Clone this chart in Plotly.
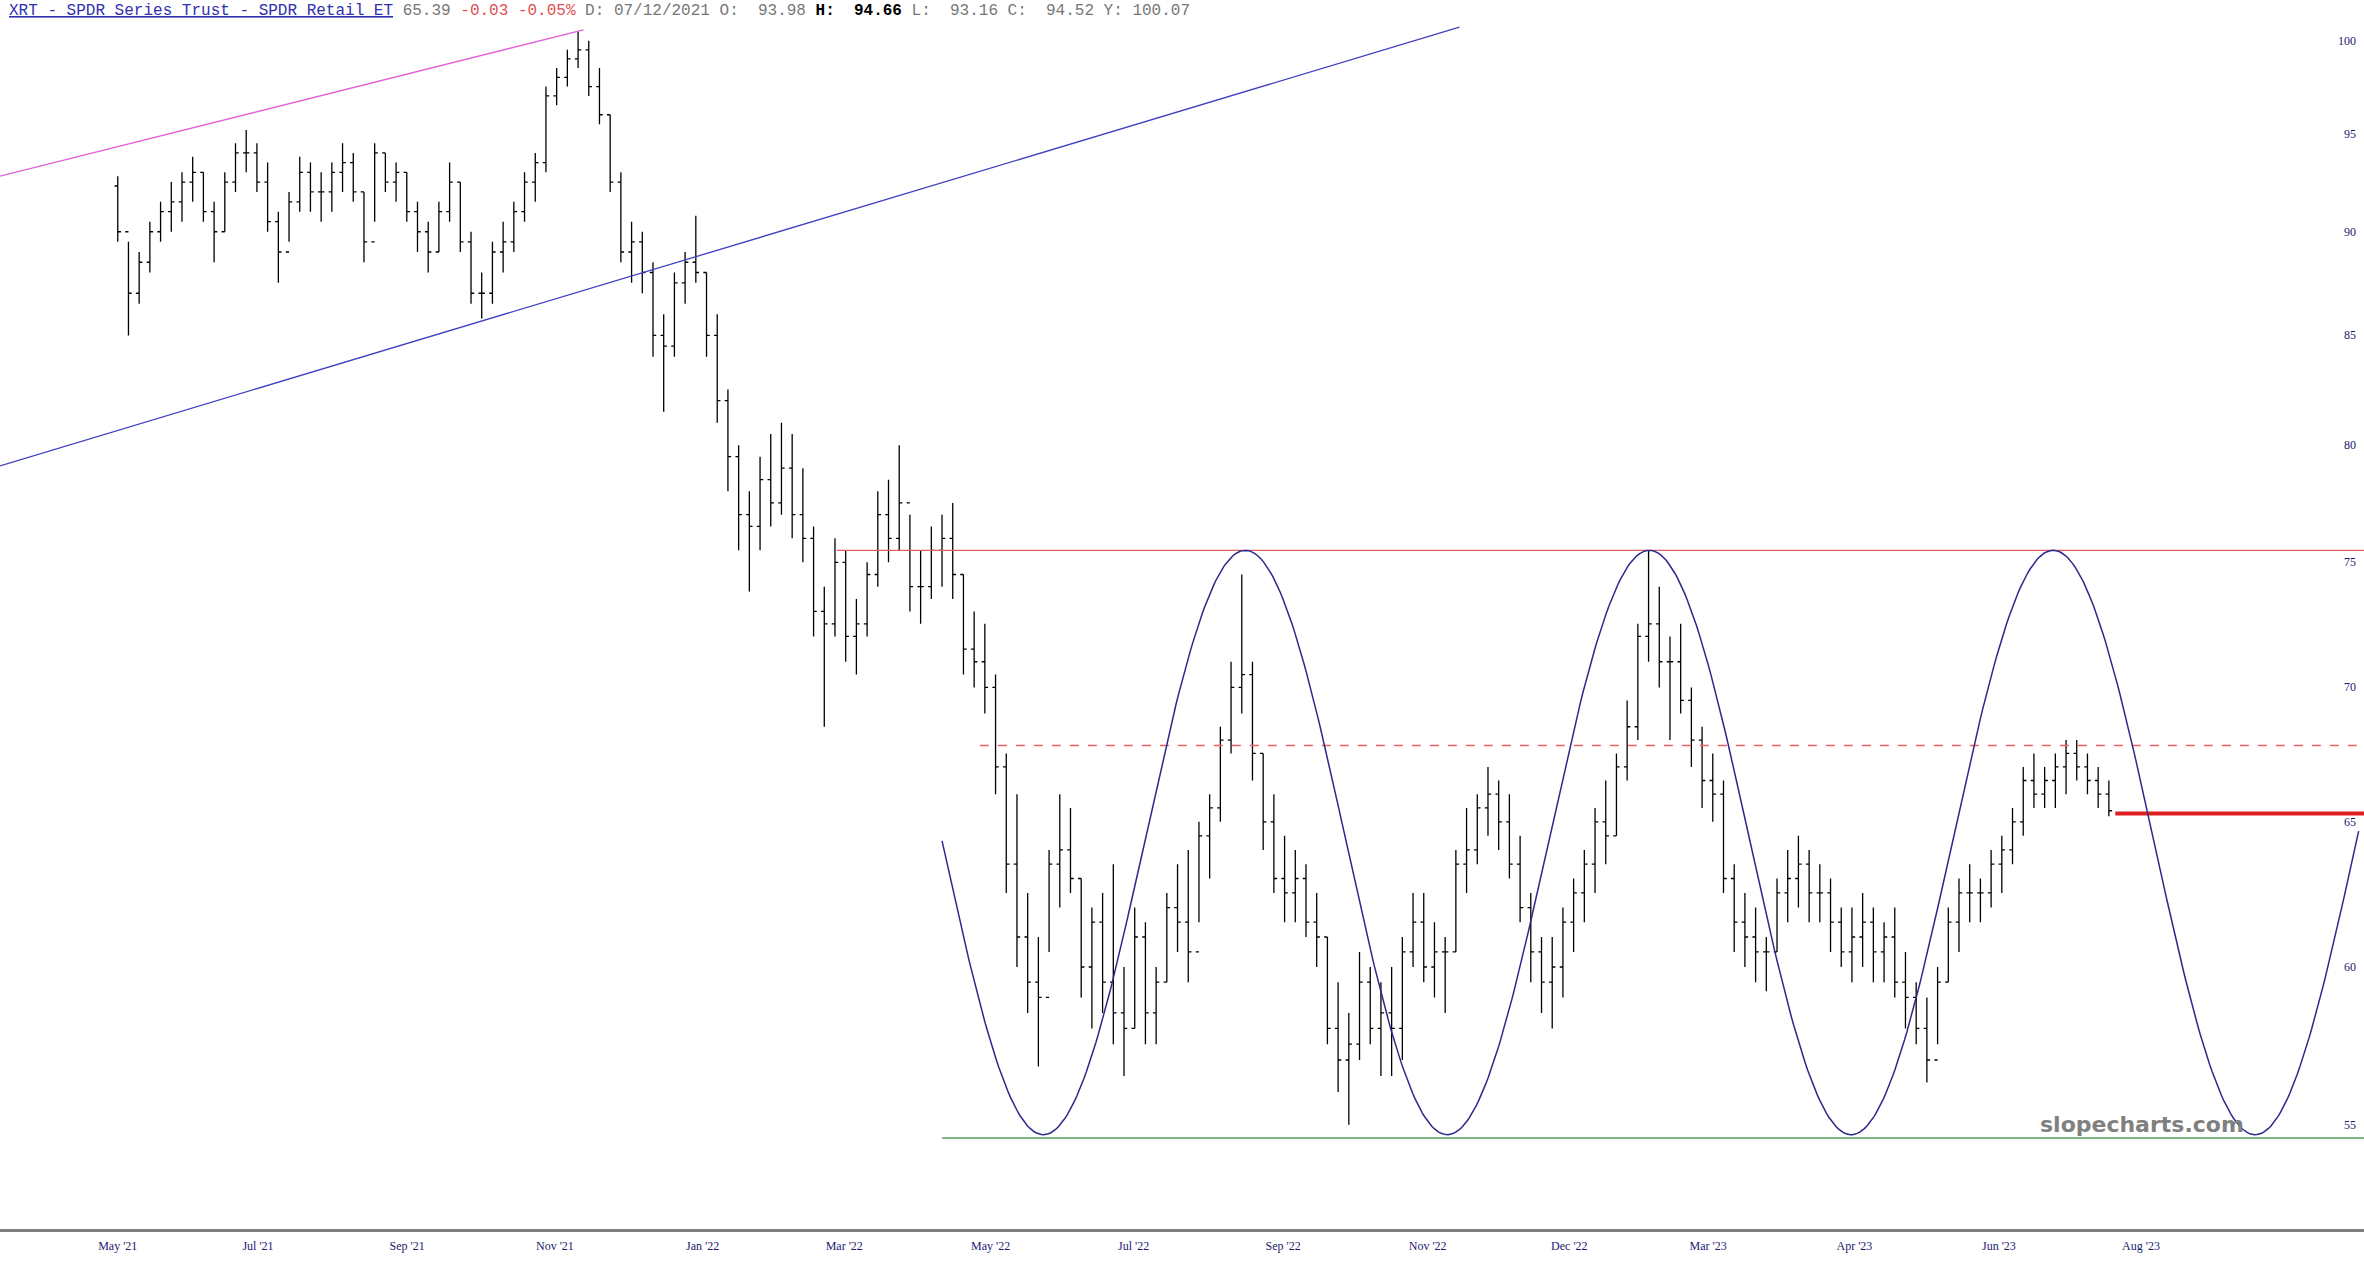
import numpy as np
import plotly.graph_objects as go

# 3-trading-day bars
highs = [92.8,89.5,89,90.5,91.5,92.5,93,93.8,93,91.5,
 93,94.5,95.2,94.5,93.5,91,92,93.8,93.5,93,
 93.5,94.5,94,92,94.5,94,93.5,93,91.5,90.5,
 91.5,93.5,92.5,90,88,89.5,90.5,91.5,93,94,
 97.5,98.5,99.5,100.5,100,98.5,96,93,90.5,90,
 88.5,86,88,89,90.8,88,86,82.5,80,78,
 79.5,80.5,81,80.5,79,76.5,74,76,75.5,73.5,
 75,78,78.5,80,77,75.5,76.5,77,77.5,74.5,
 73,72.5,70.5,67.5,66,62.5,61,64,66,65.5,
 63,62,62.5,63.5,60,62,61.5,60,62.5,63.5,
 64,65,66,68.5,71,74.5,71,67.5,66,64.5,
 64,63.5,62.5,61,59.5,58.5,60.5,60,59.5,60,
 61,62.5,62.5,61.5,61,64,65.5,66,67,66.5,
 66,64.5,62.5,61,61,62,63,64,65.5,66.5,
 67.5,69.5,72.5,75.5,74,72,72.5,70,68.5,67.5,
 66.5,63.5,62.5,62,61,63,64,64.5,64,63.5,
 63,62,62,62.5,62,61.5,62,60.5,59.5,59,
 60,62,63,63.5,63,64,64.5,65.5,67,67.5,
 67,67.5,68,68,67.5,67,66.5]
lows = [89.5,85,86.5,88,89.5,90,90.5,91.5,90.5,88.5,
 90,92,93,92,90,87.5,89.5,91,91,90.5,
 91,92,91.5,88.5,90.5,92,91.5,90.5,89,88,
 89,90.5,89,86.5,85.8,86.5,88,89,90.5,91.5,
 93,96.5,97.5,98.5,97,95.5,92,88.5,87.5,87,
 84,81.5,84,86.5,87.5,84,81,78,75.5,73.8,
 75.5,76.5,77,76,75,72,68.5,72,71,70.5,
 72,74,75,75.5,73,72.5,73.5,74,73.5,70.5,
 70,69,66,62.5,60,58.5,56.8,60.5,62,62.5,
 59,58,58.5,57.5,56.5,58,57.5,57.5,59.5,60.5,
 59.5,61.5,63,65,67.5,69,66.5,64,62.5,61.5,
 61.5,61,60,57.5,56,55,57,57.5,56.5,56.5,
 57,60,59.5,59,58.5,60.5,62.5,63.5,64.5,64,
 63,61.5,59.5,58.5,58,59,60.5,61.5,62.5,63.5,
 64.5,66.5,68,71,70,68,69,67,65.5,65,
 62.5,60.5,60,59.5,59.2,60.5,61.5,62,61.5,61.5,
 60.5,60,59.5,60,59.5,59.5,59,58,57.5,56.3,
 57.5,59.5,60.5,61.5,61.5,62,62.5,63.5,64.5,65.5,
 65.5,65.5,66,66.5,66,65.5,65.2]
closes = [90,87,88.5,90,91,91.5,92.5,93,91,90,
 92.5,94,94,92.5,90.5,89,91.5,93,92,92,
 93,93.5,92,89.5,94,92.5,93,91,90,89,
 91,92.5,89.5,87,87,89,89.5,91,92.5,93.5,
 97,98,99,99.5,97.5,96,92.5,89,89.5,88,
 85,84.5,87.5,88.5,88,85,82,79.5,77,76.5,
 78.5,77.5,79,77,76,73,72.5,75,72,72.5,
 74.5,77,76,77.5,74,74,75.5,76,74.5,71.5,
 71,70,67,63.5,61,59.5,59,63.5,64,63,
 60,61.5,59.5,58.5,58,61,58.5,59.5,62,61.5,
 60.5,64.5,65.5,68,70,70.5,67.5,65,63,62.5,
 63,61.5,61,58,57,57.5,59.5,58,58.5,58,
 60.5,61.5,60,60.5,60.5,63.5,64,65.5,66,65,
 63.5,62,60.5,59.5,60,61.5,62.5,63.5,65,64.5,
 67,68.5,72,72.5,71,71,69.5,68,66.5,66,
 63,61.5,61,60.5,60.5,62.5,63,63.5,62.5,62.5,
 61.5,60.5,61,61.5,60.5,61,59.5,59,58,57,
 59.5,61.5,62.5,62.5,62.5,63.5,64,65,66.5,66,
 66.5,67,67.5,67,66.5,66,65.4]
opens = [92.3] + closes[:-1]

tick_labels = ["May '21","Jul '21","Sep '21","Nov '21","Jan '22","Mar '22","May '22",
               "Jul '22","Sep '22","Nov '22","Dec '22","Mar '23","Apr '23","Jun '23","Aug '23"]
tick_pos = [0,39.3,81.1,122.5,163.9,203.6,244.6,284.7,326.6,367.1,406.8,445.7,486.7,527.2,567.0]
price_ticks = [55,60,65,70,75,80,85,90,95,100]

XL, XR = -33, 629.5
x = [3*i for i in range(len(closes))]

fig = go.Figure()
def seg(x0, x1, y0, y1, color, width=1.3, dash=None):
    fig.add_trace(go.Scatter(x=[x0, x1], y=[y0, y1], mode="lines", hoverinfo="skip",
                             line=dict(color=color, width=width, dash=dash), showlegend=False))

seg(XL, 130.5, 92.8, 100.6, "#e060d8")
seg(XL, 376, 79.1, 100.75, "#4040c0")
seg(201.5, XR, 75.5, 75.5, "#e06060")
seg(241.6, XR, 67.8, 67.8, "#f06060", 1.5, "dash")
seg(231, XR, 54.6, 54.6, "#80b880", 2)
seg(559.8, XR, 65.3, 65.3, "#e02020", 4)

d = np.linspace(231, 628, 600)
lhi, llo = np.log10(75.5), np.log10(54.7)
c, a = (lhi+llo)/2, (lhi-llo)/2
yc = 10**(c - a*np.cos(2*np.pi*(d-259.4)/113.2))
fig.add_trace(go.Scatter(x=d, y=yc, mode="lines", line=dict(color="#2a2a8a", width=1.5),
                         hoverinfo="skip", showlegend=False))

fig.add_trace(go.Ohlc(x=x, open=opens, high=highs, low=lows, close=closes,
                      increasing_line_color="black", decreasing_line_color="black",
                      line_width=1.3, tickwidth=0.3, showlegend=False))

annots = [dict(xref="paper", yref="y", x=0.9975, y=float(np.log10(v)), xanchor="right",
               yanchor="middle", showarrow=False, text=str(v),
               font=dict(family="Liberation Serif", size=12, color="#1a1a6e"))
          for v in price_ticks]
annots += [
    dict(xref="paper", yref="paper", x=0.003, y=1, xanchor="left", yanchor="top",
         showarrow=False, align="left",
         font=dict(family="Liberation Mono", size=16, color="#777777"),
         text="<span style='color:#3030b0'><u>XRT - SPDR Series Trust - SPDR Retail ET</u></span> 65.39 "
              "<span style='color:#e05050'>-0.03 -0.05%</span> D: 07/12/2021 O:  93.98 "
              "<b style='color:#000'>H:</b>  <b style='color:#000'>94.66</b> L:  93.16 C:  94.52 Y: 100.07"),
    dict(xref="paper", yref="paper", x=0.95, y=0.073, xanchor="right", yanchor="bottom",
         showarrow=False, text="<b>slopecharts.com</b>",
         font=dict(family="DejaVu Sans", size=22, color="#808080")),
]

fig.update_layout(
    width=2364, height=1269, paper_bgcolor="white", plot_bgcolor="white",
    margin=dict(l=0, r=0, t=0, b=40),
    xaxis=dict(range=[XL, XR], tickvals=tick_pos, ticktext=tick_labels, showgrid=False,
               zeroline=False, rangeslider=dict(visible=False), showline=True,
               linecolor="#808080", linewidth=3, ticks="", ticklabelstandoff=4,
               tickfont=dict(family="Liberation Serif", size=12, color="#1a1a6e")),
    yaxis=dict(type="log", range=[1.7154, 2.00975], showticklabels=False,
               showgrid=False, zeroline=False, ticks=""),
    annotations=annots,
)
fig.write_html("out.html", config={"displayModeBar": False},
               post_script="document.body.style.margin='0';")
